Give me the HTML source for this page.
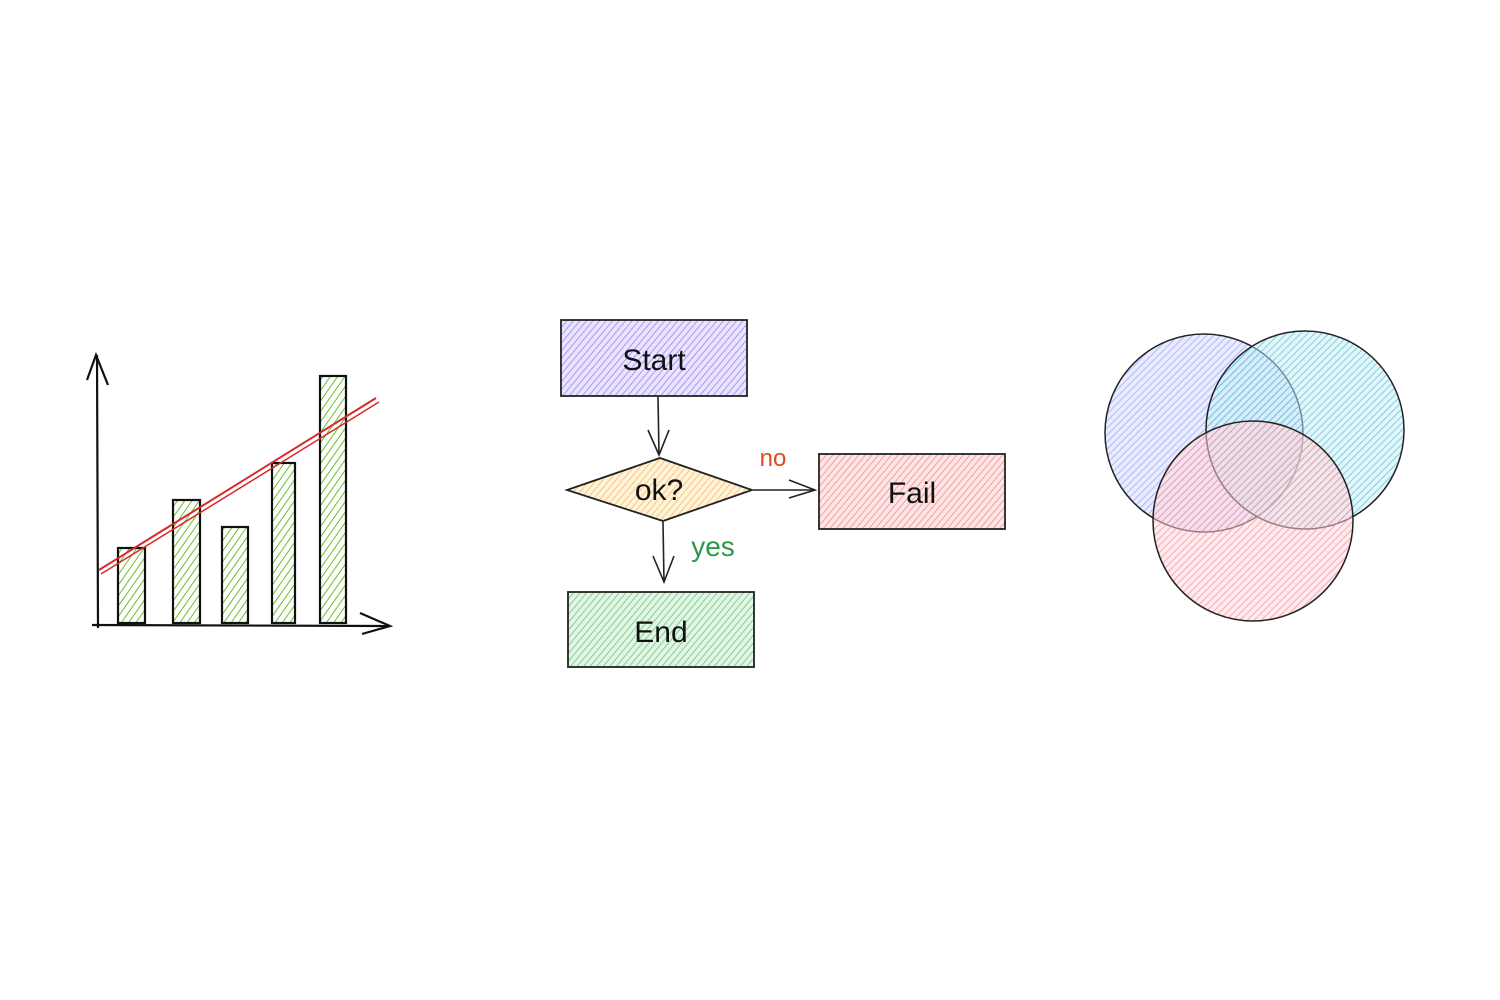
<!DOCTYPE html>
<html><head><meta charset="utf-8"><style>html,body{margin:0;padding:0;background:#fff}svg{display:block}</style></head>
<body>
<svg width="1500" height="1000" viewBox="0 0 1500 1000" xmlns="http://www.w3.org/2000/svg">
<defs>
<pattern id="hg" width="6" height="6" patternUnits="userSpaceOnUse" patternTransform="rotate(35)"><line x1="0" y1="0" x2="0" y2="6" stroke="#6cc02a" stroke-width="2"/></pattern>
<pattern id="hp" width="5" height="5" patternUnits="userSpaceOnUse" patternTransform="rotate(40)"><rect width="5" height="5" fill="#ebe4ff"/><line x1="0" y1="0" x2="0" y2="5" stroke="#9c84f2" stroke-width="1.6"/></pattern>
<pattern id="ho" width="5" height="5" patternUnits="userSpaceOnUse" patternTransform="rotate(40)"><rect width="5" height="5" fill="#fff3dc"/><line x1="0" y1="0" x2="0" y2="5" stroke="#f5bd5c" stroke-width="1.6"/></pattern>
<pattern id="hr" width="5" height="5" patternUnits="userSpaceOnUse" patternTransform="rotate(40)"><rect width="5" height="5" fill="#ffe6e6"/><line x1="0" y1="0" x2="0" y2="5" stroke="#f28c8c" stroke-width="1.6"/></pattern>
<pattern id="hgr" width="5" height="5" patternUnits="userSpaceOnUse" patternTransform="rotate(40)"><rect width="5" height="5" fill="#e2f6e6"/><line x1="0" y1="0" x2="0" y2="5" stroke="#6cc480" stroke-width="1.6"/></pattern>
<pattern id="cb" width="5" height="5" patternUnits="userSpaceOnUse" patternTransform="rotate(45)"><rect width="5" height="5" fill="#d4daff" fill-opacity="0.5"/><line x1="0" y1="0" x2="0" y2="5" stroke="#8696f0" stroke-width="1.6" stroke-opacity="0.75"/></pattern>
<pattern id="ct" width="5" height="5" patternUnits="userSpaceOnUse" patternTransform="rotate(45)"><rect width="5" height="5" fill="#c8eef5" fill-opacity="0.5"/><line x1="0" y1="0" x2="0" y2="5" stroke="#3fb6d0" stroke-width="1.6" stroke-opacity="0.75"/></pattern>
<pattern id="cr" width="5" height="5" patternUnits="userSpaceOnUse" patternTransform="rotate(45)"><rect width="5" height="5" fill="#ffd6dc" fill-opacity="0.5"/><line x1="0" y1="0" x2="0" y2="5" stroke="#f07f90" stroke-width="1.6" stroke-opacity="0.75"/></pattern>
</defs>
<g stroke="#111" stroke-width="2.2" fill="none">
<line x1="97" y1="355" x2="98" y2="628"/>
<polyline points="87,380 96,355 108,385"/>
<line x1="92" y1="625" x2="390" y2="626"/>
<polyline points="360,613 390,626 362,634"/>
<rect x="118" y="548" width="27" height="75" fill="url(#hg)"/>
<rect x="173" y="500" width="27" height="123" fill="url(#hg)"/>
<rect x="222" y="527" width="26" height="96" fill="url(#hg)"/>
<rect x="272" y="463" width="23" height="160" fill="url(#hg)"/>
<rect x="320" y="376" width="26" height="247" fill="url(#hg)"/>
</g>
<line x1="99" y1="570" x2="376" y2="398" stroke="#d8282c" stroke-width="2"/>
<line x1="101" y1="574" x2="379" y2="402" stroke="#d8282c" stroke-width="1.5"/>
<g stroke="#222" stroke-width="1.8">
<rect x="561" y="320" width="186" height="76" fill="url(#hp)"/>
<polygon points="567,490 660,458 752,490 663,521" fill="url(#ho)"/>
<rect x="819" y="454" width="186" height="75" fill="url(#hr)"/>
<rect x="568" y="592" width="186" height="75" fill="url(#hgr)"/>
<g fill="none" stroke-width="1.6">
<line x1="658" y1="397" x2="659" y2="455"/><polyline points="648,430 659,455 669,430"/>
<line x1="753" y1="490" x2="815" y2="490"/><polyline points="789,480 815,490 789,498"/>
<line x1="663" y1="522" x2="664" y2="582"/><polyline points="653,556 664,582 674,556"/>
</g>
</g>
<g font-family="'Liberation Sans',sans-serif" font-size="30" text-anchor="middle" fill="#111">
<text x="654" y="370">Start</text>
<text x="659" y="500">ok?</text>
<text x="912" y="503">Fail</text>
<text x="661" y="642">End</text>
<text x="773" y="466" font-size="24" fill="#e04a1c">no</text>
<text x="713" y="556" font-size="28" fill="#2a9a48">yes</text>
</g>
<g stroke="#222" stroke-width="1.5">
<circle cx="1204" cy="433" r="99" fill="url(#cb)"/>
<circle cx="1305" cy="430" r="99" fill="url(#ct)"/>
<circle cx="1253" cy="521" r="100" fill="url(#cr)"/>
</g>
</svg>
</body></html>
